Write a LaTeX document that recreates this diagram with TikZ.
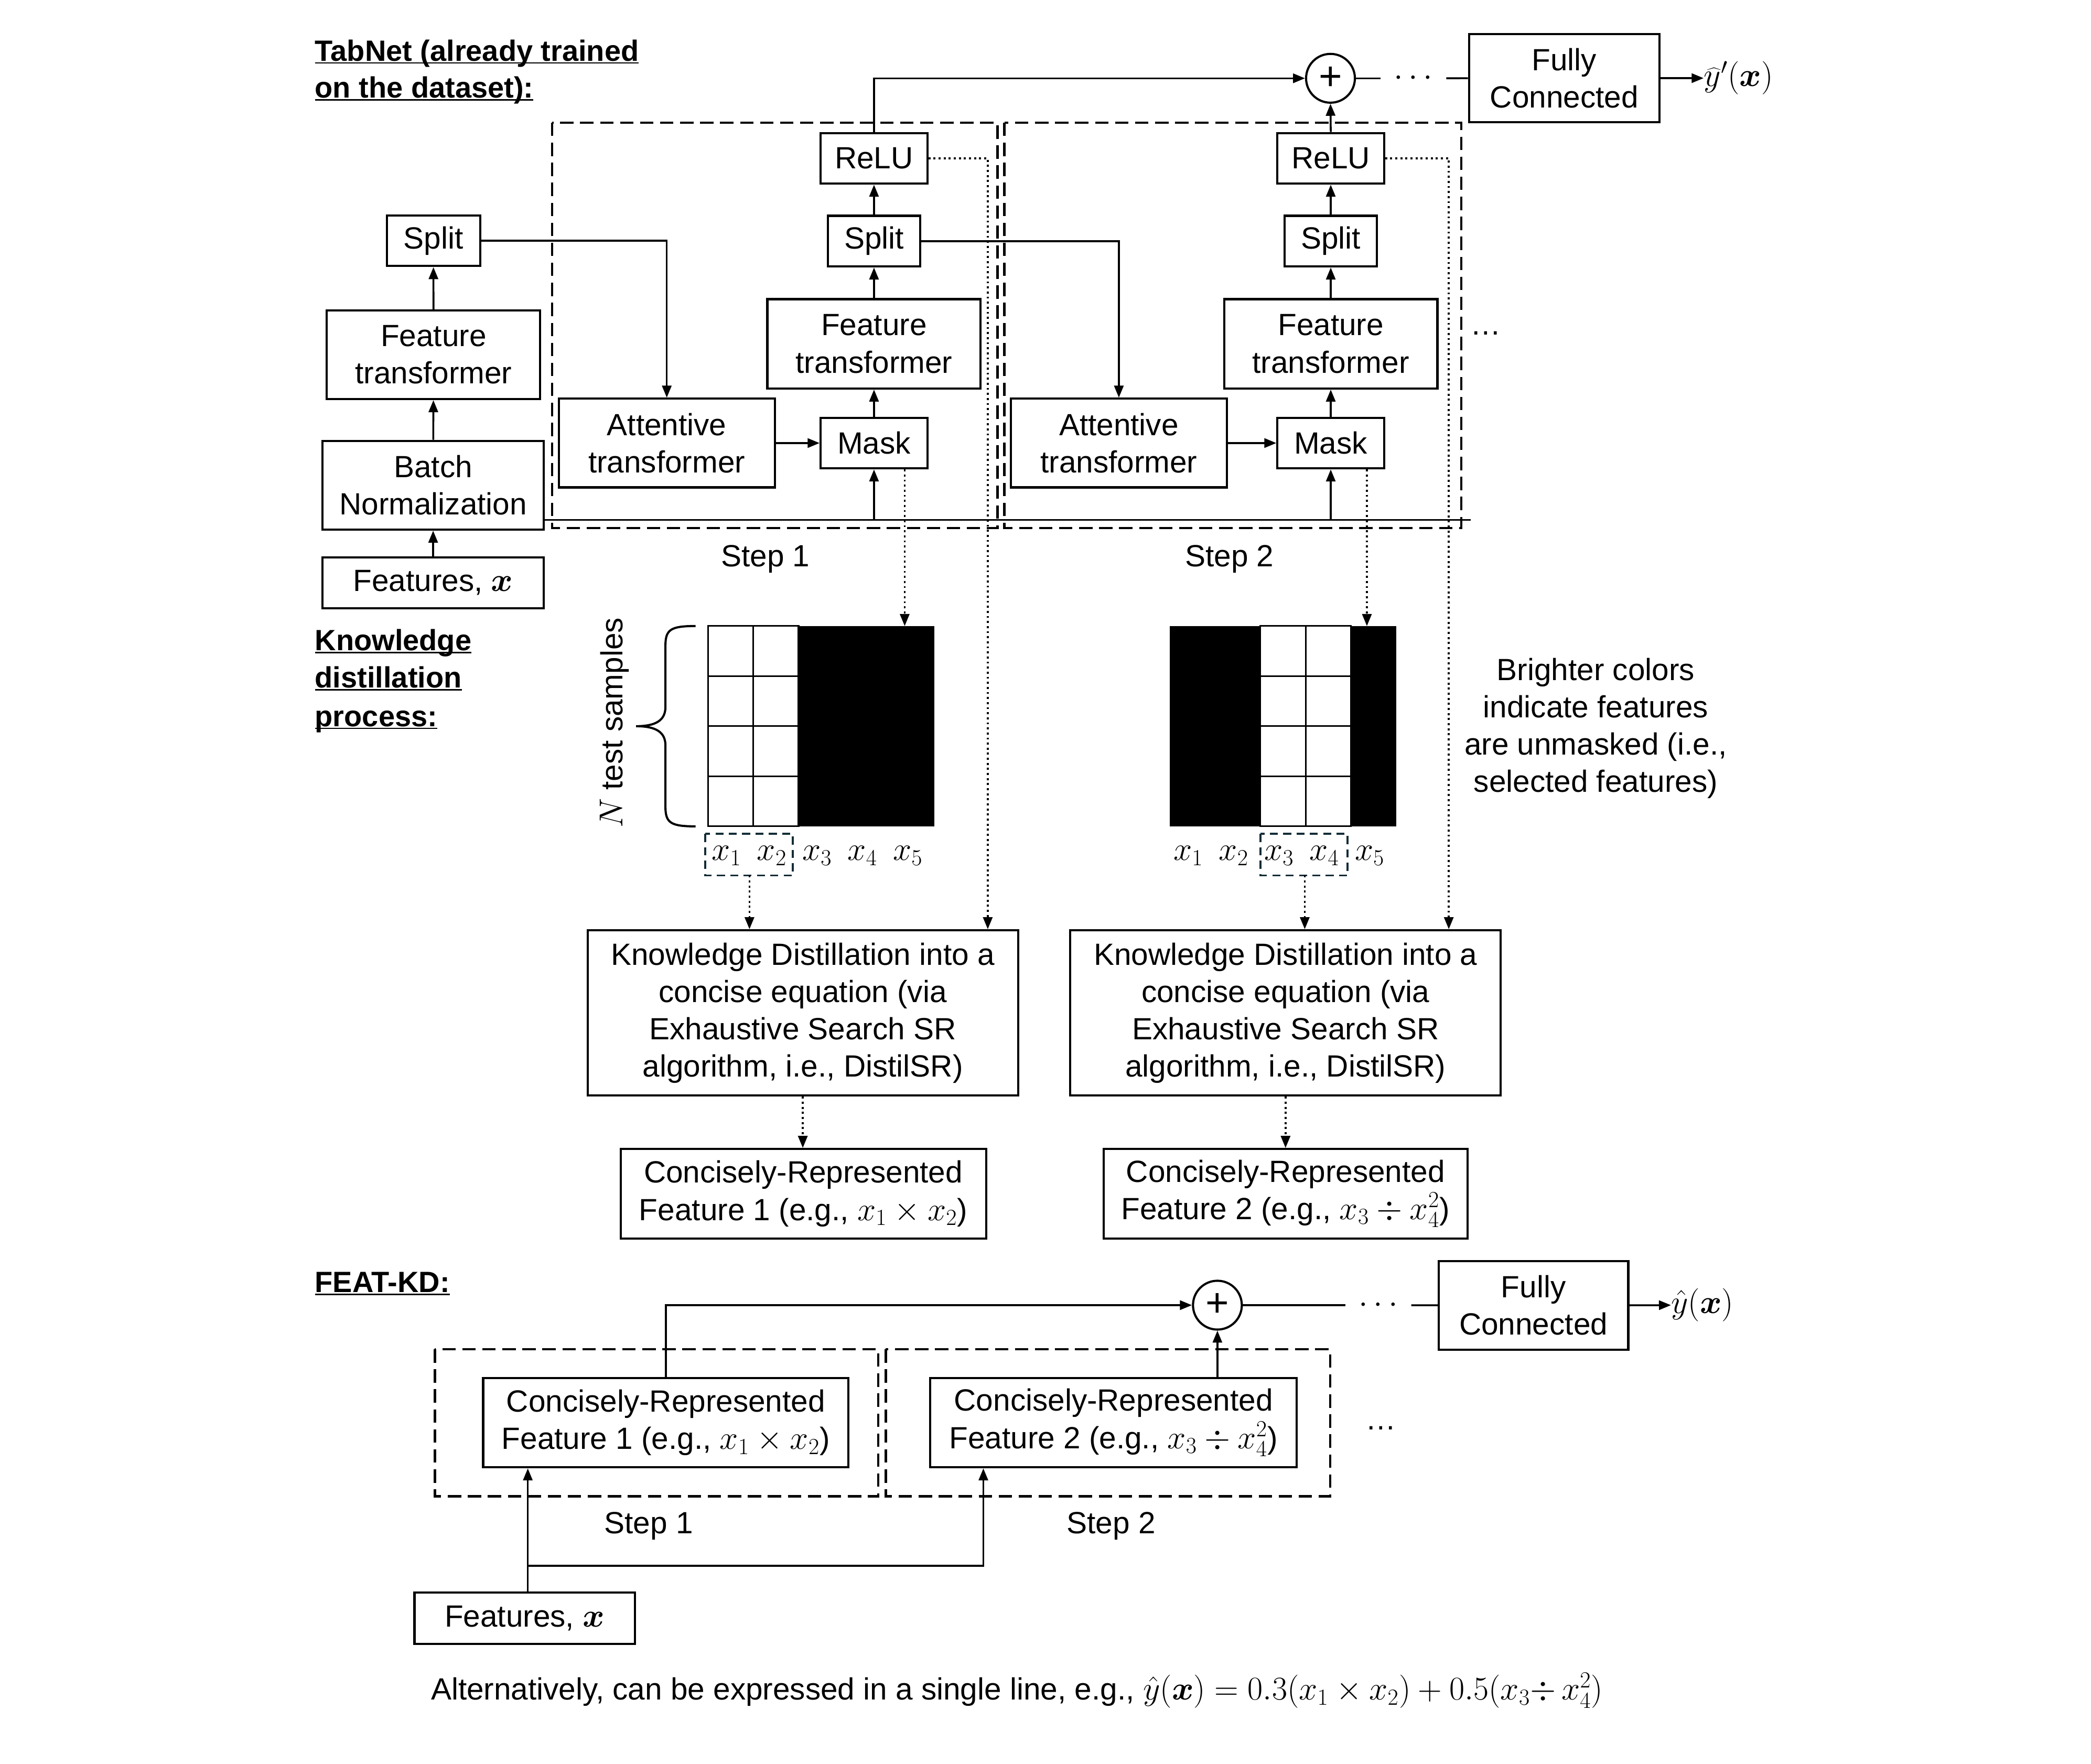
\documentclass[tikz,border=0pt]{standalone}
\usepackage{fontspec}
\setmainfont{Liberation Sans}
\usepackage{bm}
\usetikzlibrary{arrows.meta,calc}
\newsavebox\myulbox
\newcommand{\myul}[1]{\sbox\myulbox{#1}\rlap{\rule[-2pt]{\wd\myulbox}{1.1pt}}\usebox\myulbox}
\newcommand{\fsz}{\fontsize{23}{28}\selectfont}
\newcommand{\tsz}{\fontsize{22}{28}\selectfont\bfseries}
\definecolor{teal}{RGB}{20,45,55}
\tikzset{
  box/.style={draw, line width=1.6pt, inner sep=0pt, align=center, font=\fsz},
  sz/.style 2 args={minimum width=#1pt, minimum height=#2pt},
  arr/.style={line width=1.4pt, -{Triangle[length=9pt,width=7pt]}},
  ln/.style={line width=1.4pt},
  dotarr/.style={line width=1.4pt, dash pattern=on 1.5pt off 2.3pt, -{Triangle[length=9pt,width=7pt]}},
  stepbox/.style={line width=1.8pt, dash pattern=on 10pt off 5pt},
  selbox/.style={draw=teal, line width=1.5pt, dash pattern=on 6pt off 4pt},
  plus/.style={draw, circle, line width=1.6pt, minimum size=36.6pt, inner sep=0pt, font=\fontsize{30}{30}\selectfont},
  lbl/.style={font=\fsz, inner sep=0pt},
  ttl/.style={font=\tsz, inner sep=0pt, anchor=base west},
  grid/.style={draw, line width=1.2pt, fill=white}
}
\begin{document}
\begin{tikzpicture}[x=1pt,y=-1pt]
\useasboundingbox (0,0) rectangle (1568,1322.6);
\fill[white] (0,0) rectangle (1568,1322.6);

% ---------- titles ----------
\node[ttl] (t1a) at (236,45.7) {\myul{TabNet (already trained}};
\node[ttl] (t1b) at (236,73.5) {\myul{on the dataset):}};
\node[ttl] (t2a) at (236,487.7) {\myul{Knowledge}};
\node[ttl] (t2b) at (236,515.7) {\myul{distillation}};
\node[ttl] (t2c) at (236,544.7) {\myul{process:}};
\node[ttl] (t3) at (236,969) {\myul{FEAT-KD:}};

% ---------- step boxes (top) ----------
\draw[stepbox] (414,92) rectangle (748,396);
\draw[stepbox] (753.2,92) rectangle (1095.7,396);
\node[lbl] (s1) at (574,419) {Step 1};
\node[lbl] (s2) at (922,419) {Step 2};

% ---------- left column ----------
\node[box, sz={70}{38}] (split0) at (325,180.5) {Split};
\node[box, sz={160}{66.5}] (ft0) at (325.1,266) {Feature\\transformer};
\node[box, sz={166}{66.6}] (bn) at (324.8,363.8) {Batch\\Normalization};
\node[box, sz={166}{38}] (feat0) at (324.8,437) {Features, $\bm{x}$};

% ---------- step 1 ----------
\node[box, sz={162}{66.5}] (att1) at (500,332.2) {Attentive\\transformer};
\node[box, sz={80}{38}] (mask1) at (655.4,332.2) {Mask};
\node[box, sz={160}{67}] (ft1) at (655.4,257.8) {Feature\\transformer};
\node[box, sz={69}{38}] (split1) at (655.4,180.8) {Split};
\node[box, sz={80}{38}] (relu1) at (655.4,118.7) {ReLU};

% ---------- step 2 ----------
\node[box, sz={162}{66.5}] (att2) at (839,332.2) {Attentive\\transformer};
\node[box, sz={80}{38}] (mask2) at (997.9,332.2) {Mask};
\node[box, sz={160}{67}] (ft2) at (997.9,257.8) {Feature\\transformer};
\node[box, sz={69}{38}] (split2) at (997.9,180.8) {Split};
\node[box, sz={80}{38}] (relu2) at (997.9,118.7) {ReLU};

\node[plus] (plus1) at (997.7,58.7) {+};
\node[lbl, inner xsep=10pt] (dots1) at (1059.8,58.7) {$\cdots$};
\node[box, sz={143}{66}] (fc1) at (1173,58.6) {Fully\\Connected};
\node[lbl, anchor=west] (yh1) at (1277.5,58.6) {$\widehat{y}'(\bm{x})$};
\node[lbl, anchor=base] (more1) at (1114.3,251) {\ldots};

% ---------- top connectors ----------
\draw[arr] (feat0) -- (bn);
\draw[arr] (bn) -- (ft0);
\draw[arr] (ft0) -- (split0);
\draw[arr] (split0.east) -| (att1.north);
\draw[arr] (split1.east) -| (att2.north);
\draw[arr] (att1) -- (mask1);
\draw[arr] (att2) -- (mask2);
\draw[arr] (mask1) -- (ft1);
\draw[arr] (ft1) -- (split1);
\draw[arr] (split1) -- (relu1);
\draw[arr] (mask2) -- (ft2);
\draw[arr] (ft2) -- (split2);
\draw[arr] (split2) -- (relu2);
\draw[arr] (relu1.north) |- (plus1.west);
\draw[arr] (relu2.north) -- (plus1.south);
\draw[ln] (plus1) -- (dots1);
\draw[ln] (dots1) -- (fc1);
\draw[arr] (fc1.east) -- (yh1.west);
\coordinate (busend) at (1102.7,389.8);
\draw[ln] (bn.east |- busend) -- (busend);
\draw[arr] (mask1.south |- busend) -- (mask1.south);
\draw[arr] (mask2.south |- busend) -- (mask2.south);

% ---------- matrices ----------
\fill (598.8,469.4) rectangle (700.8,619.6);
\foreach \c in {0,1} \foreach \r in {0,1,2,3}
  \draw[grid] (530.8+\c*34, 469.4+\r*37.55) rectangle ++(34,37.55);
\fill (877.1,469.4) rectangle (945.1,619.6);
\fill (1013.1,469.4) rectangle (1047.1,619.6);
\foreach \c in {2,3} \foreach \r in {0,1,2,3}
  \draw[grid] (877.1+\c*34, 469.4+\r*37.55) rectangle ++(34,37.55);
\coordinate (m1) at (678.4,469.4);
\coordinate (m2) at (1025,469.4);

% brace and label
\draw[line width=1.6pt] (521.6,469.4) .. controls (503,469.4) and (499,472) .. (499,484)
  -- (499,530) .. controls (499,540) and (492,544.5) .. (477,544.5)
  .. controls (492,544.5) and (499,549) .. (499,559)
  -- (499,605) .. controls (499,617) and (503,619.6) .. (521.6,619.6);
\node[lbl, rotate=90] (ntest) at (460.7,542) {$N$ test samples};

% feature labels
\foreach \n in {1,...,5}
  \node[lbl] (a\n) at (530.8+\n*34-17-3,641.6) {$x_{\n}$};
\foreach \n in {1,...,5}
  \node[lbl] (b\n) at (877.1+\n*34-17-3,641.6) {$x_{\n}$};
\draw[selbox] (528.7,625.3) rectangle (594.5,656.4);
\draw[selbox] (945.2,625.3) rectangle (1010.6,656.4);
\coordinate (sel1) at (562,656.4);
\coordinate (sel2) at (978.4,656.4);

\node[lbl, align=center] (note) at (1196.6,546) {Brighter colors\\indicate features\\are unmasked (i.e.,\\selected features)};

% ---------- knowledge distillation ----------
\node[box, sz={322.8}{124}] (kd1) at (602,759.5) {Knowledge Distillation into a\\concise equation (via\\Exhaustive Search SR\\algorithm, i.e., DistilSR)};
\node[box, sz={322.8}{124}] (kd2) at (964,759.5) {Knowledge Distillation into a\\concise equation (via\\Exhaustive Search SR\\algorithm, i.e., DistilSR)};
\node[box, sz={274}{67}] (cr1) at (602.4,895) {Concisely-Represented\\Feature 1 (e.g., $x_1\times x_2$)};
\node[box, sz={273}{67}] (cr2) at (964,895) {Concisely-Represented\\Feature 2 (e.g., $x_3\div x_4^2$)};

\draw[dotarr] (mask1.south -| m1) -- (m1);
\draw[dotarr] (mask2.south -| m2) -- (m2);
\coordinate (v1) at (740.7,0);
\coordinate (v2) at (1086.4,0);
\draw[dotarr] (relu1.east) -| (kd1.north -| v1);
\draw[dotarr] (relu2.east) -| (kd2.north -| v2);
\draw[dotarr] (sel1) -- (kd1.north -| sel1);
\draw[dotarr] (sel2) -- (kd2.north -| sel2);
\draw[dotarr] (kd1) -- (kd1.south |- cr1.north);
\draw[dotarr] (kd2) -- (kd2.south |- cr2.north);

% ---------- FEAT-KD ----------
\draw[stepbox] (326.1,1011.7) rectangle (658.6,1122);
\draw[stepbox] (664.2,1011.7) rectangle (997.4,1122);
\node[box, sz={274}{67}] (cr1b) at (499.3,1066.7) {Concisely-Represented\\Feature 1 (e.g., $x_1\times x_2$)};
\node[box, sz={274.7}{67}] (cr2b) at (835,1066.7) {Concisely-Represented\\Feature 2 (e.g., $x_3\div x_4^2$)};
\node[lbl] (s1b) at (486.4,1144) {Step 1};
\node[lbl] (s2b) at (833.2,1144) {Step 2};
\node[lbl, anchor=base] (more2) at (1035.7,1072) {\ldots};
\node[plus] (plus2) at (912.9,978.6) {+};
\node[lbl, inner xsep=10pt] (dots2) at (1033.6,978.6) {$\cdots$};
\node[box, sz={142.2}{66.6}] (fc2) at (1149.9,978.7) {Fully\\Connected};
\node[lbl, anchor=west] (yh2) at (1253,978.6) {$\hat{y}(\bm{x})$};
\node[box, sz={165.2}{38.7}] (featb) at (393.4,1213.4) {Features, $\bm{x}$};

\draw[arr] (cr1b.north) |- (plus2.west);
\draw[arr] (cr2b.north -| plus2) -- (plus2.south);
\draw[ln] (plus2) -- (dots2);
\draw[ln] (dots2) -- (fc2);
\draw[arr] (fc2.east) -- (yh2.west);
\coordinate (j1) at (395.8,1174);
\coordinate (j2) at (737.4,1174);
\draw[arr] (featb.north -| j1) -- (cr1b.south -| j1);
\draw[arr] (j1) -- (j2) -- (cr2b.south -| j2);

\node[lbl, anchor=base west] (alt) at (323,1274.6) {Alternatively, can be expressed in a single line, e.g., $\hat{y}(\bm{x}) = 0.3(x_1 \times x_2) + 0.5(x_3{\div}\, x_4^2)$};
\end{tikzpicture}
\end{document}
